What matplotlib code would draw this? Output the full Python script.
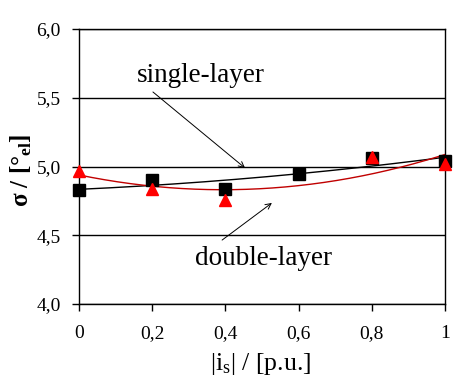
import numpy as np
import matplotlib
matplotlib.use("Agg")
import matplotlib.pyplot as plt

plt.rcParams['font.family'] = ['Liberation Serif', 'DejaVu Serif']
plt.rcParams['mathtext.fontset'] = 'custom'
plt.rcParams['mathtext.rm'] = 'Liberation Serif'
plt.rcParams['mathtext.it'] = 'Liberation Serif:italic'
plt.rcParams['mathtext.bf'] = 'Liberation Serif:bold'

x_single = [0.0, 0.2, 0.4, 0.6, 0.8, 1.0]
y_single = [4.83, 4.90, 4.84, 4.945, 5.06, 5.04]
x_double = [0.0, 0.2, 0.4, 0.8, 1.0]
y_double = [4.97, 4.84, 4.76, 5.07, 5.02]

x_ticks = [0, 0.2, 0.4, 0.6, 0.8, 1.0]
x_ticklabels = ['0', '0,2', '0,4', '0,6', '0,8', '1']
y_ticks = [4.0, 4.5, 5.0, 5.5, 6.0]
y_ticklabels = ['4,0', '4,5', '5,0', '5,5', '6,0']

fig = plt.figure(figsize=(4.73, 3.87), dpi=100)
ax = fig.add_axes([79/473, 1 - 304/387, (445-79)/473, (304-29)/387])

xs = np.linspace(0, 1, 200)
p1 = np.polyfit(x_single, y_single, 2)
p2 = np.polyfit(x_double, y_double, 2)
ax.plot(xs, np.polyval(p1, xs), color='black', lw=1, zorder=3)
ax.plot(xs, np.polyval(p2, xs), color='#c00000', lw=1, zorder=3)
ax.plot(x_single, y_single, 's', color='black', ms=9, zorder=4, clip_on=False)
ax.plot(x_double, y_double, '^', color='red', ms=8, zorder=5, clip_on=False)

ax.set_xlim(0, 1)
ax.set_ylim(4.0, 6.0)
ax.set_xticks(x_ticks)
ax.set_xticklabels(x_ticklabels, fontsize=14)
ax.set_yticks(y_ticks)
ax.set_yticklabels(y_ticklabels, fontsize=14)
ax.tick_params(axis='x', direction='out', length=5, width=1, pad=10)
ax.tick_params(axis='y', direction='out', length=5, width=1, pad=8)
ax.yaxis.grid(True, color='black', lw=1)
for s in ax.spines.values():
    s.set_linewidth(1)

ax.set_xlabel(r'$|\mathrm{i_s}|$ / [p.u.]', fontsize=18.5)
ax.xaxis.set_label_coords(0.497, -0.172)
ax.set_ylabel(r'$\mathbf{\sigma}$ / [°$_{\mathbf{el}}$]', fontsize=18, fontweight='bold')
ax.yaxis.set_label_coords(-0.122, 0.487)

ax.text(0.158, 5.615, 'single-layer', fontsize=19.5, ha='left', va='baseline')
ax.annotate('', xy=(0.4536, 4.989), xytext=(0.202, 5.542),
            arrowprops=dict(arrowstyle='->', color='black', lw=0.7, shrinkA=0, shrinkB=0))
ax.text(0.317, 4.284, 'double-layer', fontsize=19.5, ha='left', va='baseline')
ax.annotate('', xy=(0.527, 4.735), xytext=(0.391, 4.465),
            arrowprops=dict(arrowstyle='->', color='black', lw=0.7, shrinkA=0, shrinkB=0))

fig.savefig('out.png', dpi=100)
